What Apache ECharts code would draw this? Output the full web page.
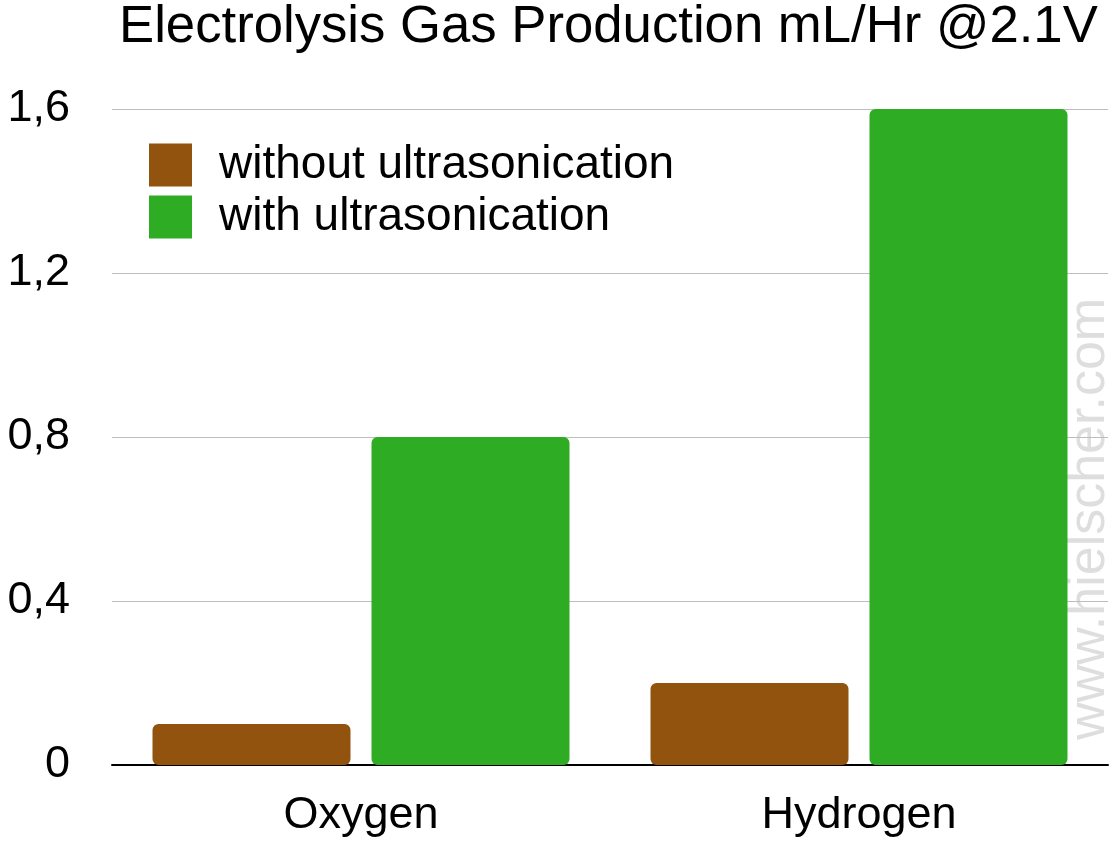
<!DOCTYPE html>
<html>
<head>
<meta charset="utf-8">
<script src="https://cdn.jsdelivr.net/npm/echarts@6/dist/echarts.min.js"></script>
<style>
html,body{margin:0;padding:0;background:#fff;}
#chart{width:1116px;height:842px;}
</style>
</head>
<body>
<div id="chart"></div>
<script>
var categories = ['Oxygen', 'Hydrogen'];
var withoutUltrasonication = [0.1, 0.2];
var withUltrasonication = [0.8, 1.6];
var seriesNames = ['without ultrasonication', 'with ultrasonication'];
var titleText = 'Electrolysis Gas Production mL/Hr @2.1V';
var watermarkText = 'www.hielscher.com';

var FONT = '"Liberation Sans", Arial, Helvetica, sans-serif';
var chart = echarts.init(document.getElementById('chart'), null, {renderer: 'canvas'});
chart.setOption({
  animation: false,
  backgroundColor: '#fff',
  title: {
    text: titleText,
    left: 119,
    top: 1,
    padding: 0,
    textStyle: {fontFamily: FONT, fontSize: 52.7, lineHeight: 52, fontWeight: 'normal', color: '#000'}
  },
  legend: {
    orient: 'vertical',
    left: 149,
    top: 142,
    padding: 0,
    itemWidth: 43,
    itemHeight: 43,
    itemGap: 6,
    icon: 'rect',
    selectedMode: false,
    textStyle: {fontFamily: FONT, fontSize: 46, lineHeight: 46, color: '#000', padding: [0, 0, 0, 22]},
    data: seriesNames
  },
  grid: {left: 112, right: 8, top: 109, bottom: 77, containLabel: false},
  xAxis: {
    type: 'category',
    data: categories,
    axisLine: {lineStyle: {color: '#000', width: 2}},
    axisTick: {show: false},
    axisLabel: {fontFamily: FONT, fontSize: 45, lineHeight: 45, color: '#000', margin: 28}
  },
  yAxis: {
    type: 'value',
    min: 0,
    max: 1.6,
    interval: 0.4,
    axisLine: {show: false},
    axisTick: {show: false},
    splitLine: {lineStyle: {color: '#bdbdbd', width: 1}},
    axisLabel: {
      fontFamily: FONT, fontSize: 45, color: '#000', align: 'right', margin: 42,
      formatter: function (v) { return v === 0 ? '0' : v.toFixed(1).replace('.', ','); }
    }
  },
  series: [
    {
      name: seriesNames[0], type: 'bar', data: withoutUltrasonication,
      barWidth: 198, barGap: '10.6%',
      itemStyle: {color: '#91530d', borderRadius: 6}
    },
    {
      name: seriesNames[1], type: 'bar', data: withUltrasonication,
      barWidth: 198,
      itemStyle: {color: '#2ead24', borderRadius: 6}
    }
  ],
  graphic: [{
    type: 'text',
    x: 1090,
    y: 740,
    rotation: Math.PI / 2,
    style: {text: watermarkText, fontFamily: FONT, fontSize: 52, fill: '#dedede', align: 'left', verticalAlign: 'middle'},
    z: -1
  }]
});
</script>
</body>
</html>
